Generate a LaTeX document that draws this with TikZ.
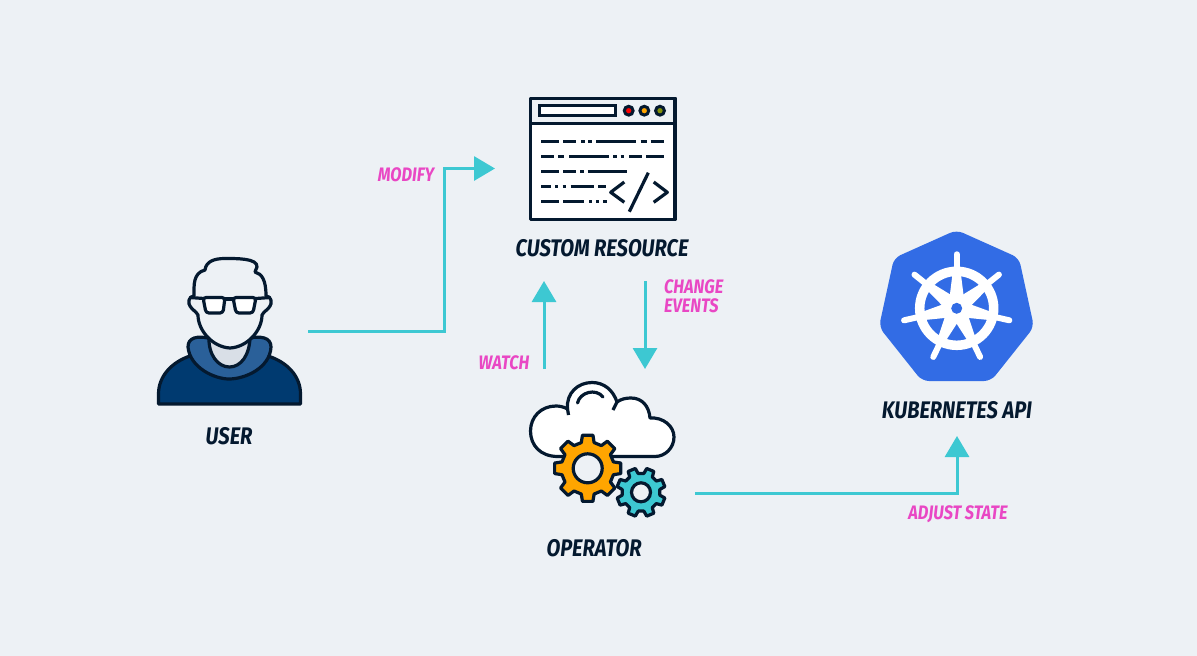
\documentclass[tikz,border=0pt]{standalone}
\usepackage{fontspec}
\usetikzlibrary{positioning,arrows.meta}
\newfontfamily\iconfont[FakeStretch=0.84]{Fira Sans}
\definecolor{pagebg}{HTML}{EDF1F5}
\definecolor{inkdark}{HTML}{04192F}
\definecolor{flowteal}{HTML}{3DC8D2}
\definecolor{notepink}{HTML}{E947C4}
\definecolor{k8sblue}{HTML}{326CE5}
\definecolor{gearorange}{HTML}{FFA500}
\definecolor{hoodnavy}{HTML}{003A70}
\definecolor{collarblue}{HTML}{2A6099}
\definecolor{necklight}{HTML}{D9DFE7}
% {cx}{cy}{root radius}{tip radius}{offset}
\newcommand{\gearoutline}[5]{[shift={(#1,#2)}] (#5-14:#3pt) foreach \i [evaluate=\i as \a using \i*45+#5] in {0,...,7} { -- (\a-14:#3pt) -- (\a-9:#4pt) -- (\a+9:#4pt) -- (\a+14:#3pt)} -- cycle}

\begin{document}
\begin{tikzpicture}[x=1pt,y=-1pt,
icon_box/.style={rectangle, inner sep=0pt, outer sep=0pt},
big_label/.style={text=inkdark, inner sep=0pt, font=\iconfont\fontsize{24}{26}\selectfont\bfseries\itshape},
pink_label/.style={text=notepink, inner sep=0pt, align=left, font=\iconfont\fontsize{19.5}{19}\selectfont\bfseries\itshape},
flow_line/.style={draw=flowteal, line width=3pt, -{Triangle[length=21pt,width=24pt]}},
ink_line/.style={draw=inkdark, line width=3.2pt, line join=round},
]
\useasboundingbox (0,0) rectangle (1197,656);
\fill[pagebg] (0,0) rectangle (1197,656);

% \node[type](name)[place]{} : empty boxes that hold the icons
\node[icon_box, minimum width=214pt, minimum height=225pt](customres) at (602,168.5){};
\node[icon_box, minimum width=186pt, minimum height=248pt](operator)[below=88pt of customres]{};
\node[icon_box, minimum width=158pt, minimum height=160pt](user)[left=187pt of customres, yshift=-162.5pt]{};
\node[icon_box, minimum width=160pt, minimum height=211pt](kube)[right=168pt of customres, yshift=-162pt]{};

% window
\draw[ink_line, fill=white] (530.5,98.5) rectangle (675,219.5);
\draw[ink_line, fill=pagebg] (530.5,98.5) rectangle (675,123.5);
\draw[draw=inkdark, line width=3pt, fill=white] (539,105.5) rectangle (615,115.5);
\foreach \px/\col in {628.7/red, 644.3/gearorange, 660/olive!80!green}
  \draw[draw=inkdark, line width=3pt, fill=\col] (\px,110.7) circle (4.4pt);
\foreach \ly/\segs in {
  141.7/{541/559,563/575.7,581/585,588.3/592,596/636,640.7/647.3,650.7/664},
  156.7/{541/554,558/564.3,569/609,613.3/616.7,620.7/624,629.3/642,646/664},
  171.3/{541/559,563/575.7,580.3/583.7,587.7/627.3},
  186/{541/550.7,555/558.3,562.7/566,570.7/594.3,598.3/606},
  201/{541/559,563/584.3,589/592.3,596/599.3,603.3/606.7}}
  \foreach \xa/\xb in \segs
    \draw[draw=inkdark, line width=3pt] (\xa,\ly) -- (\xb,\ly);
\draw[ink_line] (624.3,182) -- (610.7,192.3) -- (624.3,202.3);
\draw[ink_line] (653.7,182) -- (667.3,192.3) -- (653.7,202.3);
\draw[ink_line] (648.3,172.7) -- (629.3,211.7);

% user
\draw[ink_line, fill=hoodnavy] (158.5,404) -- (158.5,394) .. controls (158.5,376) and (172,362) .. (190,356) -- (268,356) .. controls (287,362) and (300.5,376) .. (300.5,394) -- (300.5,404) -- cycle;
\draw[ink_line, fill=collarblue] (208,338) .. controls (198,336) and (188,337) .. (188,347) .. controls (190,368) and (215,379) .. (229,379) .. controls (245,379) and (270,368) .. (271,347) .. controls (271,337) and (260,336) .. (250,338) -- cycle;
\draw[ink_line, fill=necklight] (209,336) .. controls (208,355) and (218,367) .. (229.5,367) .. controls (241,367) and (250,355) .. (250,336) -- cycle;
\draw[ink_line, fill=pagebg] (194,296) .. controls (194,285) and (193,273) .. (205,270) .. controls (206,261) and (215,258.5) .. (225,258.5) .. controls (235,258.5) and (258,258) .. (257,267) .. controls (256,270) and (255,271) .. (255,272) .. controls (262,274) and (266,280) .. (266,296) .. controls (272,296) and (272,304) .. (270,306) .. controls (268,310) and (264,311) .. (262,315) .. controls (262,330) and (248,347) .. (230,348) .. controls (212,347) and (198,330) .. (198,315) .. controls (196,311) and (192,310) .. (190,306) .. controls (188,304) and (188,296) .. (194,296) -- cycle;
\draw[ink_line, rounded corners=3pt, fill=white] (203,297.5) -- (225,297.5) -- (223,313) -- (206,313) -- cycle;
\draw[ink_line, rounded corners=3pt, fill=white] (233,297.5) -- (256,297.5) -- (253,313) -- (236,313) -- cycle;
\draw[ink_line] (224,299) -- (234,299);
\draw[ink_line] (190,297.5) -- (204,298.5);
\draw[ink_line] (256,298.5) -- (270,297.5);

% cloud and gears
\draw[ink_line, fill=white] (558,456.5) .. controls (540,456.5) and (530.5,445) .. (530.5,431) .. controls (530.5,417) and (541,406) .. (556,406) .. controls (560,406) and (564,407) .. (567.5,409) .. controls (566,393) and (578,382.5) .. (592,382.5) .. controls (604,382.5) and (613,390) .. (617,402) .. controls (621,399) and (626,398) .. (631,398) .. controls (642,398) and (649,406) .. (650,418) .. controls (663,417) and (674,426) .. (674,437) .. controls (674,448) and (665,456.5) .. (655,456.5) -- cycle;
\draw[ink_line] (567.5,409) -- (568.5,415);
\draw[ink_line] (617,402) -- (613,410);
\draw[ink_line, line cap=round] (577.5,403) .. controls (580,392) and (596,388) .. (603,397);
\draw[ink_line, fill=gearorange] \gearoutline{587.7}{468.3}{26.5}{33.5}{0};
\draw[ink_line, fill=pagebg] (587.7,468.3) circle (14.5pt);
\draw[ink_line, fill=flowteal] \gearoutline{641}{492.3}{19}{24.5}{22.5};
\draw[ink_line, fill=pagebg] (641,492.3) circle (9.5pt);

% kubernetes wheel
\fill[k8sblue, rounded corners=7pt] (956.5,230) -- (1019,258) -- (1034,327) -- (991,381) -- (922,381) -- (879,327) -- (894,258) -- cycle;
\draw[draw=white, line width=9.5pt] (956.7,308.3) circle (37pt);
\foreach \ang in {90,141.43,192.86,244.29,295.71,347.14,38.57}{
  \fill[white, shift={(956.7,308.3)}, rotate=\ang] (8,-7.5) -- (36,-4) -- (36,4) -- (8,7.5) -- cycle;
  \draw[draw=white, line width=6pt, line cap=round, shift={(956.7,308.3)}, rotate=\ang] (30,0) -- (54,0);
}
\fill[white] (956.7,308.3) circle (11pt);
\fill[k8sblue] (956.7,308.3) circle (5.5pt);

% \draw[style] (name.direction) -- (name.direction)
\draw[flow_line] (user.east) -- ++(136,0) |- (customres.west);
\draw[flow_line] ([xshift=-58pt]operator.north) -- ([xshift=-58pt]customres.south);
\draw[flow_line] ([xshift=43pt]customres.south) -- ([xshift=43pt]operator.north);
\draw[flow_line] (operator.east) -| (kube.south);

\node[big_label](customlabel) at (602,248){CUSTOM RESOURCE};
\node[big_label](userlabel) at (229,436){USER};
\node[big_label](operatorlabel) at (594,548){OPERATOR};
\node[big_label](kubelabel) at (957,410){KUBERNETES API};
\node[pink_label](modifylabel) at (406,175){MODIFY};
\node[pink_label, anchor=west](changelabel) at (664,296.5){CHANGE\\EVENTS};
\node[pink_label](watchlabel) at (504,363){WATCH};
\node[pink_label](adjustlabel) at (958,514){ADJUST STATE};
\end{tikzpicture}
\end{document}
